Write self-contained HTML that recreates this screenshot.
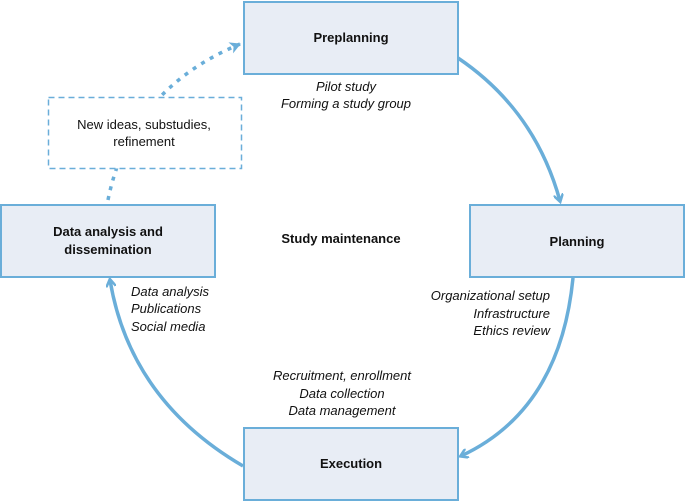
<!DOCTYPE html>
<html><head><meta charset="utf-8"><style>
html,body{margin:0;padding:0;background:#fff}
svg{display:block}
text{font-family:"Liberation Sans",Arial,sans-serif;fill:#111}
.b{font-weight:bold;font-size:13px}
.i{font-style:italic;font-size:13px}
</style></head><body>
<svg width="685" height="501" viewBox="0 0 685 501">
<defs>
<marker id="a" markerWidth="10" markerHeight="10" refX="7" refY="5" orient="auto" markerUnits="userSpaceOnUse">
<path d="M0,0 L8,5 L0,10" fill="none" stroke="#6aaed9" stroke-width="2.5"/>
</marker>
<marker id="d" markerWidth="14" markerHeight="14" refX="10" refY="7" orient="auto" markerUnits="userSpaceOnUse">
<path d="M0,1 L11,7 L0,13 L3,7z" fill="#6aaed9"/>
</marker>
</defs>
<g fill="none" stroke="#6aaed9" stroke-width="3.5">
<path d="M458,58 Q535,110 560,201" marker-end="url(#a)"/>
<path d="M573,278 Q560,410 461,456" marker-end="url(#a)"/>
<path d="M243,466 Q130,400 110,280" marker-end="url(#a)"/>
<path d="M108,200 Q130,90 240,44" stroke-dasharray="4,6" marker-end="url(#d)"/>
</g>
<rect x="48.5" y="97.5" width="193" height="71" fill="#fff" stroke="#6aaed9" stroke-width="1.5" stroke-dasharray="6,4"/>
<g fill="#e8edf5" stroke="#6aaed9" stroke-width="2">
<rect x="244" y="2" width="214" height="72"/>
<rect x="470" y="205" width="214" height="72"/>
<rect x="1" y="205" width="214" height="72"/>
<rect x="244" y="428" width="214" height="72"/>
</g>
<text class="b" x="351" y="42" text-anchor="middle">Preplanning</text>
<text class="b" x="577" y="246" text-anchor="middle">Planning</text>
<text class="b" x="108" y="236" text-anchor="middle">Data analysis and</text>
<text class="b" x="108" y="254" text-anchor="middle">dissemination</text>
<text class="b" x="351" y="468" text-anchor="middle">Execution</text>
<text class="b" x="341" y="243" text-anchor="middle">Study maintenance</text>
<text class="i" x="346" y="91" text-anchor="middle">Pilot study</text>
<text class="i" x="346" y="108" text-anchor="middle">Forming a study group</text>
<text x="144" y="129" text-anchor="middle" font-size="13">New ideas, substudies,</text>
<text x="144" y="146" text-anchor="middle" font-size="13">refinement</text>
<text class="i" x="131" y="296">Data analysis</text>
<text class="i" x="131" y="313">Publications</text>
<text class="i" x="131" y="331">Social media</text>
<text class="i" x="550" y="300" text-anchor="end">Organizational setup</text>
<text class="i" x="550" y="318" text-anchor="end">Infrastructure</text>
<text class="i" x="550" y="335" text-anchor="end">Ethics review</text>
<text class="i" x="342" y="380" text-anchor="middle">Recruitment, enrollment</text>
<text class="i" x="342" y="398" text-anchor="middle">Data collection</text>
<text class="i" x="342" y="415" text-anchor="middle">Data management</text>
</svg>
</body></html>
